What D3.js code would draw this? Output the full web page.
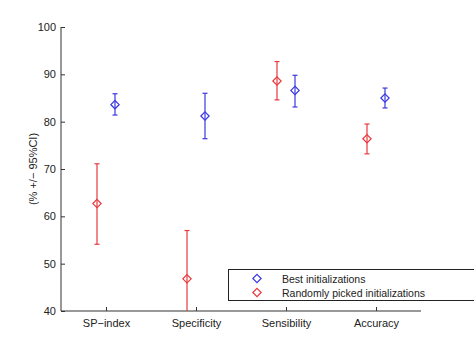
<!DOCTYPE html>
<html lang="en">
<head>
<meta charset="utf-8">
<title>Initializations CI</title>
<script src="https://d3js.org/d3.v7.min.js"></script>
<style type="text/css">
body { margin: 0; background: #fff; }
text { font-family: "Liberation Sans", Arial, sans-serif; fill: #222; }
</style>
</head>
<body>
<div id="chart"></div>
<script type="text/javascript">
// data
const categories = ["SP\u2212index", "Specificity", "Sensibility", "Accuracy"];
const bestMean  = [83.6, 81.2, 86.6, 85.0];
const bestLow   = [81.4, 76.4, 83.1, 82.9];
const bestHigh  = [85.9, 86.0, 89.8, 87.1];
const randMean  = [62.7, 46.8, 88.6, 76.4];
const randLow   = [54.1, 36.5, 84.6, 73.2];
const randHigh  = [71.1, 57.0, 92.7, 79.5];
const yTicks = [40, 50, 60, 70, 80, 90, 100];
const seriesNames = ["Best initializations", "Randomly picked initializations"];

const w = 474, h = 351;
const padL = 61, padR = 421, padT = 27, padB = 311;

const svg = d3.select("#chart").append("svg")
  .attr("width", w).attr("height", h);

const x = d3.scaleLinear().domain([0.5, 4.5]).range([padL, padR]);
const y = d3.scaleLinear().domain([40, 100]).range([padB, padT]);

// clip so the red bar going under 40 is cut
svg.append("clipPath").attr("id", "plotclip")
  .append("rect").attr("x", padL).attr("y", padT - 5)
  .attr("width", padR - padL).attr("height", padB - padT + 5);

// y axis, ticks inward
const yAxis = svg.append("g")
  .attr("transform", "translate(" + padL + ",0)")
  .call(d3.axisLeft(y).tickValues(yTicks).tickSize(-4).tickPadding(5));
yAxis.selectAll("text").style("font-size", "11px");

// x axis, ticks inward
const xAxis = svg.append("g")
  .attr("transform", "translate(0," + padB + ")")
  .call(d3.axisBottom(x).tickValues([1, 2, 3, 4])
    .tickFormat((d, i) => categories[i]).tickSize(-4).tickPadding(8));
xAxis.selectAll("text").style("font-size", "11px");

svg.selectAll(".domain").attr("stroke", "#333");
yAxis.select(".domain").attr("d", "M0," + padT + "V" + padB);
xAxis.select(".domain").attr("d", "M" + padL + ",0H" + padR);
svg.selectAll(".tick line").attr("stroke", "#333");

svg.append("text")
  .attr("transform", "translate(37," + ((padT + padB) / 2) + ") rotate(-90)")
  .attr("text-anchor", "middle")
  .style("font-size", "11px")
  .text("(% +/\u2212 95%CI)");

const diamond = d3.symbol().type(d3.symbolDiamond2).size(44);

function drawSeries(mean, low, high, offset, color) {
  const g = svg.append("g").attr("clip-path", "url(#plotclip)");
  const rows = mean.map((m, i) => ({ i: i + 1, m: m, lo: low[i], hi: high[i] }));
  const cap = 2.5;
  const grp = g.selectAll("g.pt").data(rows).enter().append("g");
  grp.append("line")
    .attr("x1", d => x(d.i + offset)).attr("x2", d => x(d.i + offset))
    .attr("y1", d => y(d.lo)).attr("y2", d => y(d.hi))
    .attr("stroke", color).attr("stroke-width", 1.2);
  grp.append("line")
    .attr("x1", d => x(d.i + offset) - cap).attr("x2", d => x(d.i + offset) + cap)
    .attr("y1", d => y(d.hi)).attr("y2", d => y(d.hi))
    .attr("stroke", color).attr("stroke-width", 1.2);
  grp.append("line")
    .attr("x1", d => x(d.i + offset) - cap).attr("x2", d => x(d.i + offset) + cap)
    .attr("y1", d => y(d.lo)).attr("y2", d => y(d.lo))
    .attr("stroke", color).attr("stroke-width", 1.2);
  grp.append("path")
    .attr("d", diamond)
    .attr("transform", d => "translate(" + x(d.i + offset) + "," + y(d.m) + ")")
    .attr("fill", "none").attr("stroke", color).attr("stroke-width", 1.2);
}

const blue = "#3a3ae0", red = "#e8383d";
drawSeries(randMean, randLow, randHigh, -0.1, red);
drawSeries(bestMean, bestLow, bestHigh, 0.1, blue);

// legend
const lg = svg.append("g");
lg.append("rect").attr("x", 228.5).attr("y", 269.5)
  .attr("width", 260).attr("height", 31)
  .attr("fill", "#fff").attr("stroke", "#222").attr("stroke-width", 1);
[blue, red].forEach((c, i) => {
  lg.append("path").attr("d", diamond)
    .attr("transform", "translate(257," + (278.5 + i * 14) + ")")
    .attr("fill", "none").attr("stroke", c).attr("stroke-width", 1.2);
  lg.append("text").attr("x", 282).attr("y", 282.5 + i * 14)
    .style("font-size", "10.5px").text(seriesNames[i]);
});
</script>
</body>
</html>
